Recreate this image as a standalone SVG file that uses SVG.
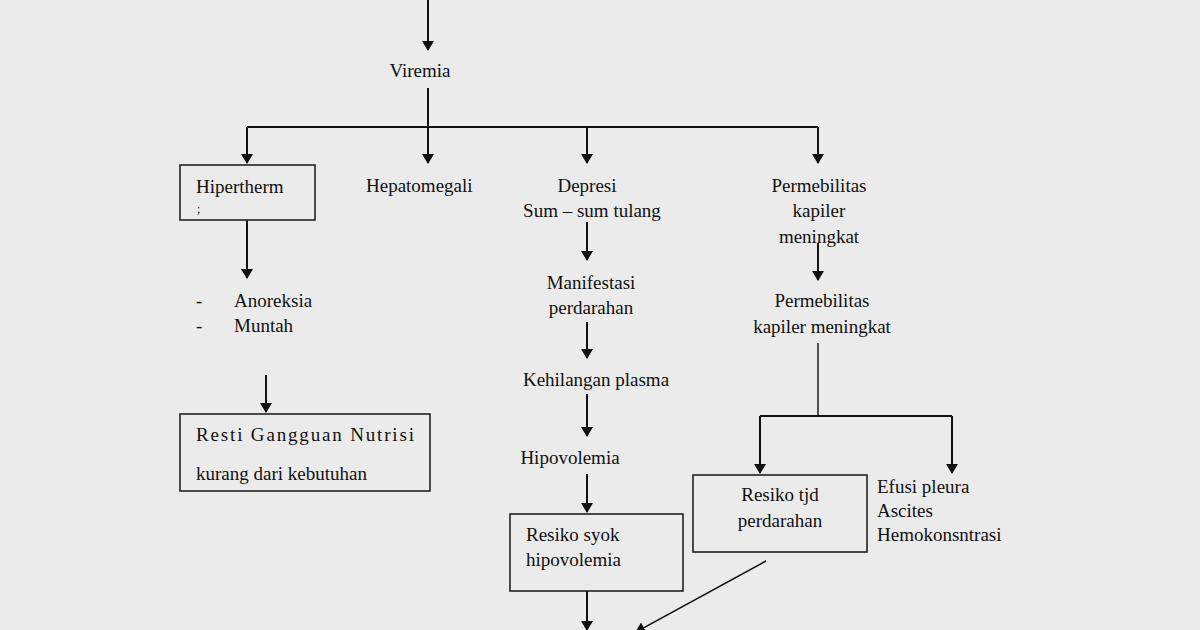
<svg xmlns="http://www.w3.org/2000/svg" width="1200" height="630" viewBox="0 0 1200 630">
<style>
text{font-family:"Liberation Serif","Times New Roman",serif;font-size:19px;fill:#111}
.c{text-anchor:middle}
.ln{stroke:#111;stroke-width:2;fill:none}
.bx{stroke:#222;stroke-width:1.6;fill:none}
</style>
<defs><marker id="a" markerWidth="10" markerHeight="12" refX="9" refY="6" orient="auto" markerUnits="userSpaceOnUse"><path d="M0,0L10,6L0,12z" fill="#111"/></marker></defs>
<rect width="1200" height="630" fill="#ebebeb"/>
<g id="connectors">
<path class="ln" d="M428,0V50" marker-end="url(#a)"/>
<path class="ln" d="M428,88V163" marker-end="url(#a)"/>
<path class="ln" d="M247,127H818"/>
<path class="ln" d="M247,127V163" marker-end="url(#a)"/>
<path class="ln" d="M587,127V163" marker-end="url(#a)"/>
<path class="ln" d="M818,127V163" marker-end="url(#a)"/>
<path class="ln" d="M247,220V278" marker-end="url(#a)"/>
<path class="ln" d="M266,375V412" marker-end="url(#a)"/>
<path class="ln" d="M587,222V260" marker-end="url(#a)"/>
<path class="ln" d="M587,322V358" marker-end="url(#a)"/>
<path class="ln" d="M587,394V436" marker-end="url(#a)"/>
<path class="ln" d="M587,474V512" marker-end="url(#a)"/>
<path class="ln" d="M587,591V630" marker-end="url(#a)"/>
<path class="ln" d="M818,243V280" marker-end="url(#a)"/>
<path class="ln" d="M818,343V416" style="stroke-width:1.4"/>
<path class="ln" d="M760,416H952"/>
<path class="ln" d="M760,416V473" marker-end="url(#a)"/>
<path class="ln" d="M952,416V473" marker-end="url(#a)"/>
<path class="ln" d="M766,561L636,632" style="stroke-width:1.5" marker-end="url(#a)"/>
</g>
<g id="viremia"><text x="420" y="77" class="c">Viremia</text></g>
<g id="hipertherm"><rect class="bx" x="180" y="165" width="135" height="55"/><text x="196" y="193">Hipertherm</text><text x="197" y="213" style="font-size:12px">;</text></g>
<g id="anoreksia"><text x="196" y="307">-</text><text x="234" y="307">Anoreksia</text><text x="196" y="332">-</text><text x="234" y="332">Muntah</text></g>
<g id="resti"><rect class="bx" x="180" y="414" width="250" height="77"/><text x="196" y="441" textLength="218" lengthAdjust="spacing">Resti Gangguan Nutrisi</text><text x="196" y="480">kurang dari kebutuhan</text></g>
<g id="hepatomegali"><text x="366" y="192">Hepatomegali</text></g>
<g id="depresi"><text x="587" y="192" class="c">Depresi</text><text x="592" y="217" class="c">Sum – sum tulang</text></g>
<g id="manifestasi"><text x="591" y="289" class="c">Manifestasi</text><text x="591" y="314" class="c">perdarahan</text></g>
<g id="kehilangan"><text x="596" y="386" class="c">Kehilangan plasma</text></g>
<g id="hipovolemia"><text x="570" y="464" class="c">Hipovolemia</text></g>
<g id="syok"><rect class="bx" x="510" y="514" width="173" height="77"/><text x="526" y="541">Resiko syok</text><text x="526" y="566">hipovolemia</text></g>
<g id="permebilitas1"><text x="819" y="192" class="c">Permebilitas</text><text x="819" y="217" class="c">kapiler</text><text x="819" y="243" class="c">meningkat</text></g>
<g id="permebilitas2"><text x="822" y="307" class="c">Permebilitas</text><text x="822" y="333" class="c">kapiler meningkat</text></g>
<g id="resikotjd"><rect class="bx" x="693" y="475" width="174" height="77"/><text x="780" y="501" class="c">Resiko tjd</text><text x="780" y="527" class="c">perdarahan</text></g>
<g id="efusi"><text x="877" y="493">Efusi pleura</text><text x="877" y="517">Ascites</text><text x="877" y="541">Hemokonsntrasi</text></g>
</svg>
